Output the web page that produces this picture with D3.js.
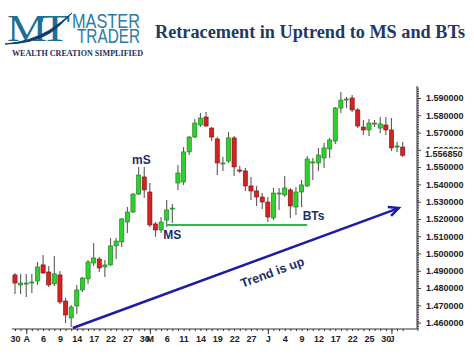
<!DOCTYPE html>
<html><head><meta charset="utf-8">
<script src="https://cdn.jsdelivr.net/npm/d3@7"></script>
<style>body{margin:0;background:#fff;} svg{display:block;}</style>
</head><body>
<svg id="c" width="474" height="355"></svg>
<script>
// ---- data ----
const dates = ["03-30","03-31",
"04-01","04-02","04-03","04-06","04-07","04-08","04-09","04-10","04-13","04-14","04-15","04-16","04-17","04-20","04-21","04-22","04-23","04-24","04-27","04-28","04-29","04-30",
"05-01","05-04","05-05","05-06","05-07","05-08","05-11","05-12","05-13","05-14","05-15","05-18","05-19","05-20","05-21","05-22","05-25","05-26","05-27","05-28","05-29",
"06-01","06-02","06-03","06-04","06-05","06-08","06-09","06-10","06-11","06-12","06-15","06-16","06-17","06-18","06-19","06-22","06-23","06-24","06-25","06-26","06-29","06-30",
"07-01","07-02","07-03"];
const open  = [1.4876,1.4818,1.4827,1.4832,1.4841,1.4934,1.4893,1.4824,1.4876,1.4725,1.4627,1.4696,1.4789,1.4853,1.4945,1.4968,1.4922,1.4934,1.5044,1.5067,1.5182,1.5240,1.5344,1.5443,1.5356,1.5171,1.5136,1.5194,1.5261,1.5408,1.5414,1.5588,1.5674,1.5744,1.5790,1.5726,1.5663,1.5521,1.5535,1.5669,1.5483,1.5478,1.5391,1.5362,1.5327,1.5298,1.5206,1.5347,1.5339,1.5368,1.5269,1.5356,1.5391,1.5527,1.5524,1.5553,1.5605,1.5651,1.5842,1.5891,1.5900,1.5831,1.5732,1.5715,1.5752,1.5726,1.5744,1.5715,1.5619,1.5616];
const high  = [1.4887,1.4882,1.4882,1.4882,1.4951,1.4991,1.4928,1.4986,1.4899,1.4742,1.4702,1.4818,1.4864,1.4963,1.5061,1.4980,1.4963,1.5090,1.5090,1.5206,1.5269,1.5350,1.5501,1.5501,1.5408,1.5182,1.5211,1.5310,1.5287,1.5512,1.5616,1.5680,1.5778,1.5813,1.5819,1.5732,1.5674,1.5559,1.5703,1.5680,1.5506,1.5495,1.5443,1.5391,1.5350,1.5327,1.5379,1.5379,1.5449,1.5379,1.5385,1.5425,1.5564,1.5553,1.5611,1.5640,1.5669,1.5848,1.5935,1.5906,1.5917,1.5842,1.5773,1.5778,1.5773,1.5790,1.5790,1.5784,1.5645,1.5645];
const low   = [1.4766,1.4766,1.4748,1.4771,1.4818,1.4882,1.4806,1.4812,1.4708,1.4598,1.4575,1.4650,1.4777,1.4824,1.4928,1.4893,1.4864,1.4928,1.4968,1.5038,1.5119,1.5235,1.5339,1.5321,1.5153,1.5096,1.5119,1.5153,1.5177,1.5368,1.5397,1.5570,1.5669,1.5732,1.5732,1.5651,1.5454,1.5478,1.5524,1.5449,1.5466,1.5362,1.5310,1.5275,1.5258,1.5182,1.5194,1.5252,1.5327,1.5206,1.5223,1.5269,1.5385,1.5425,1.5478,1.5495,1.5553,1.5634,1.5813,1.5842,1.5819,1.5726,1.5686,1.5680,1.5732,1.5697,1.5686,1.5593,1.5588,1.5559];
const close = [1.4829,1.4829,1.4829,1.4835,1.4922,1.4887,1.4818,1.4882,1.4719,1.4644,1.4690,1.4789,1.4858,1.4951,1.4974,1.4916,1.4934,1.5044,1.5072,1.5200,1.5240,1.5344,1.5454,1.5368,1.5165,1.5136,1.5182,1.5252,1.5263,1.5466,1.5588,1.5674,1.5755,1.5784,1.5738,1.5674,1.5524,1.5524,1.5669,1.5501,1.5480,1.5391,1.5362,1.5327,1.5298,1.5211,1.5350,1.5350,1.5379,1.5275,1.5356,1.5397,1.5547,1.5530,1.5570,1.5611,1.5657,1.5842,1.5888,1.5894,1.5831,1.5738,1.5715,1.5755,1.5755,1.5750,1.5715,1.5611,1.5622,1.55685];

const tickDates  = ["03-30","04-01","04-06","04-09","04-14","04-17","04-22","04-27","04-30","05-01","05-06","05-11","05-14","05-19","05-22","05-27","06-01","06-04","06-09","06-12","06-17","06-22","06-25","06-30","07-01"];
const tickLabels = ["30","A","6","9","14","17","22","27","30","M","6","11","14","19","22","27","J","4","9","12","17","22","25","30","J"];
const monthStarts = ["04-01","05-01","06-01","07-01"];
const priceTicks = [1.46,1.47,1.48,1.49,1.50,1.51,1.52,1.53,1.54,1.55,1.56,1.57,1.58,1.59];
const lastPrice = 1.55685;
const supportLevel = 1.5165;
const supportRange = ["05-06","06-10"];
const trendStart = [10.3, 1.4569];   // [bar index, price]
const trendEnd   = [68.3, 1.5263];

// ---- scales ----
const svg = d3.select("#c");
const x = d3.scalePoint().domain(dates).range([15, 402.7]);
const y = d3.scaleLinear().domain([1.46, 1.59]).range([322.6, 98]);
const xi = i => x(dates[0]) + i * x.step();
const navy = "#1b2f66";

// ---- header ----
const logo = svg.append("g");
logo.append("text").attr("x", 7).attr("y", 41).attr("font-family", "Liberation Serif").attr("font-size", 38)
  .attr("fill", "#1d6f93").attr("textLength", 40).attr("lengthAdjust", "spacingAndGlyphs").text("M");
logo.append("text").attr("x", 40).attr("y", 41).attr("font-family", "Liberation Serif").attr("font-size", 38)
  .attr("fill", "#1d6f93").attr("textLength", 30).attr("lengthAdjust", "spacingAndGlyphs").text("T");
logo.append("path").attr("d", "M5,44 Q30,42 50,30 Q62,22 72,13 Q60,26 50,33 Q32,44 5,44Z")
  .attr("fill", "#0f3c6e").attr("stroke", "#0f3c6e").attr("stroke-width", 1);
logo.append("text").attr("x", 72).attr("y", 28).attr("font-family", "Liberation Sans Narrow, Liberation Sans").attr("font-size", 20)
  .attr("fill", "#2a7ca3").attr("textLength", 68).attr("lengthAdjust", "spacingAndGlyphs").text("MASTER");
logo.append("text").attr("x", 77).attr("y", 43).attr("font-family", "Liberation Sans Narrow, Liberation Sans").attr("font-size", 20)
  .attr("fill", "#2a7ca3").attr("textLength", 63).attr("lengthAdjust", "spacingAndGlyphs").text("TRADER");
logo.append("text").attr("x", 12).attr("y", 55.5).attr("font-family", "Liberation Serif").attr("font-weight", "bold").attr("font-size", 8.5)
  .attr("fill", navy).attr("textLength", 131).attr("lengthAdjust", "spacingAndGlyphs").text("WEALTH CREATION SIMPLIFIED");

svg.append("text").attr("x", 155).attr("y", 38).attr("font-family", "Liberation Serif").attr("font-weight", "bold")
  .attr("font-size", 18).attr("fill", "#1f3864").attr("textLength", 310).attr("lengthAdjust", "spacingAndGlyphs")
  .text("Retracement in Uptrend to MS and BTs");

// ---- axes ----
const axisX = 417, axisY = 329;
svg.append("line").attr("x1", 12).attr("x2", axisX).attr("y1", axisY).attr("y2", axisY).attr("stroke", "#333");
svg.append("line").attr("x1", axisX).attr("x2", axisX).attr("y1", 86).attr("y2", axisY).attr("stroke", "#333");

const gx1 = svg.append("g").attr("transform", `translate(0,${axisY})`)
  .call(d3.axisBottom(x).tickValues(dates).tickSize(2).tickFormat(""));
const gx2 = svg.append("g").attr("transform", `translate(0,${axisY})`)
  .call(d3.axisBottom(x).tickValues(monthStarts).tickSize(5).tickFormat(""));
const labelMap = new Map(tickDates.map((d, i) => [d, tickLabels[i]]));
const gx3 = svg.append("g").attr("transform", `translate(0,${axisY})`)
  .call(d3.axisBottom(x).tickValues(tickDates).tickSize(0).tickPadding(7).tickFormat(d => labelMap.get(d)));
[gx1, gx2, gx3].forEach(g => { g.select(".domain").remove(); g.selectAll("line").attr("stroke", "#333"); });
gx3.selectAll("text").attr("font-family", "Liberation Sans").attr("font-weight", "bold").attr("font-size", 9).attr("fill", "#222");

const minor = d3.range(1456, 1597).map(v => v / 1000);
const gy1 = svg.append("g").attr("transform", `translate(${axisX},0)`)
  .call(d3.axisRight(y).tickValues(minor).tickSize(2).tickFormat(""));
const gy2 = svg.append("g").attr("transform", `translate(${axisX},0)`)
  .call(d3.axisRight(y).tickValues(priceTicks).tickSize(4).tickPadding(5).tickFormat(d3.format(".6f")));
[gy1, gy2].forEach(g => { g.select(".domain").remove(); g.selectAll("line").attr("stroke", "#444"); });
gy2.selectAll("text").attr("font-family", "Liberation Sans").attr("font-weight", "bold").attr("font-size", 9).attr("fill", "#222");

const lp = svg.append("g").attr("transform", `translate(${axisX + 8},${y(lastPrice) - 1.5})`);
lp.append("rect").attr("x", -1).attr("y", -5).attr("width", 42).attr("height", 10).attr("fill", "#fff");
lp.append("text").attr("dy", "0.35em").attr("font-family", "Liberation Sans").attr("font-weight", "bold")
  .attr("font-size", 9).attr("fill", "#222").text(d3.format(".6f")(lastPrice));

// ---- candles ----
const data = dates.map((d, i) => ({ d, o: open[i], h: high[i], l: low[i], c: close[i] }));
const bw = 4.2;
const cg = svg.append("g");
cg.selectAll("line").data(data).join("line")
  .attr("x1", d => x(d.d)).attr("x2", d => x(d.d))
  .attr("y1", d => y(d.h)).attr("y2", d => y(d.l))
  .attr("stroke", "#5a5a5a").attr("stroke-width", 1.1);
cg.selectAll("rect").data(data).join("rect")
  .attr("x", d => x(d.d) - bw / 2)
  .attr("y", d => Math.min(y(d.o), y(d.c)))
  .attr("width", bw)
  .attr("height", d => Math.max(1, Math.abs(y(d.o) - y(d.c))))
  .attr("fill", d => d.c >= d.o ? "#2fcf2f" : "#d42222")
  .attr("stroke", d => d.c >= d.o ? "#157a15" : "#7e1212")
  .attr("stroke-width", 0.6);

// ---- annotations ----
svg.append("line")
  .attr("x1", x(supportRange[0])).attr("x2", x(supportRange[1]))
  .attr("y1", y(supportLevel)).attr("y2", y(supportLevel))
  .attr("stroke", "#2db84d").attr("stroke-width", 2);

const x0 = xi(trendStart[0]), y0 = y(trendStart[1]), x1 = xi(trendEnd[0]), y1 = y(trendEnd[1]);
svg.append("line").attr("x1", x0).attr("y1", y0).attr("x2", x1).attr("y2", y1)
  .attr("stroke", "#1c1ca6").attr("stroke-width", 2.5);
const ang = Math.atan2(y1 - y0, x1 - x0), L = 11, a = 0.45;
svg.append("path")
  .attr("d", `M${x1 - L * Math.cos(ang - a)},${y1 - L * Math.sin(ang - a)} L${x1},${y1} L${x1 - L * Math.cos(ang + a)},${y1 - L * Math.sin(ang + a)}`)
  .attr("fill", "none").attr("stroke", "#1c1ca6").attr("stroke-width", 2.5);

const lbl = (t, xx, yy, anchor, size) => svg.append("text").attr("x", xx).attr("y", yy).attr("text-anchor", anchor)
  .attr("font-family", "Liberation Sans").attr("font-weight", "bold").attr("font-size", size).attr("fill", navy).text(t);
lbl("mS", xi(22.5), y(Math.max(high[22], high[23])) - 3, "middle", 12);
lbl("MS", xi(26.4), y(supportLevel) + 14, "start", 12);
lbl("BTs", xi(51.2), y(supportLevel) - 5, "start", 12);
svg.append("text").attr("transform", `translate(${xi(45.8)},${y(1.4892)}) rotate(${ang * 180 / Math.PI})`)
  .attr("text-anchor", "middle").attr("dy", "0.35em")
  .attr("font-family", "Liberation Sans").attr("font-weight", "bold").attr("font-size", 12.5).attr("fill", navy)
  .text("Trend is up");
</script>
</body></html>
